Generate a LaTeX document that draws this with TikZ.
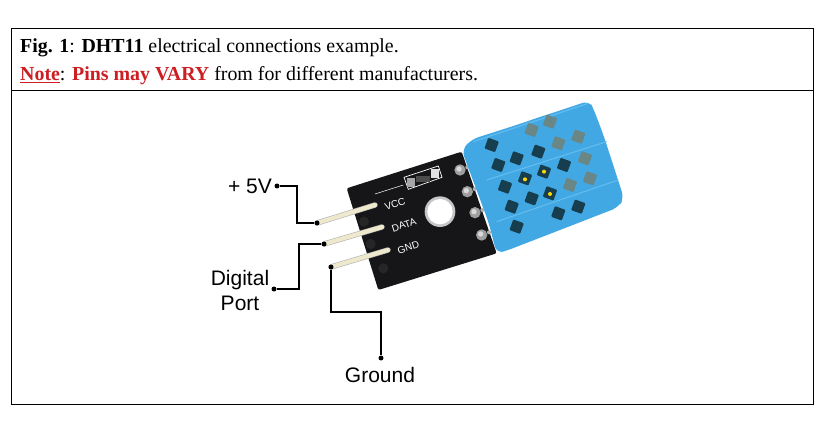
\documentclass[tikz,border=0pt]{standalone}
\usepackage{fontspec}
\setmainfont{Liberation Serif}
\newfontfamily\labelfont{Liberation Sans}
\definecolor{notered}{RGB}{205,30,35}
\definecolor{sensorblue}{RGB}{66,168,228}
\definecolor{ribblue}{RGB}{100,190,240}
\definecolor{holedark}{RGB}{22,62,78}
\definecolor{holegray}{RGB}{105,135,135}
\definecolor{pinivory}{RGB}{238,232,205}
\definecolor{boardblack}{RGB}{22,22,24}
\tikzset{
	caption/.style={anchor=base west, inner sep=0pt, font=\fontsize{19.9}{20}\selectfont},
	wirelabel/.style={align=center, inner sep=0pt, font=\labelfont\fontsize{21}{25}\selectfont},
	wiredot/.style={circle, fill=black, inner sep=0pt, minimum size=5pt},
	wire/.style={draw=black, line width=1.3pt},
	silk/.style={white, inner sep=0pt, rotate=18, font=\labelfont\fontsize{10}{10}\selectfont},
}
\begin{document}
\begin{tikzpicture}[x=1pt,y=-1pt]
	\useasboundingbox (0,0) rectangle (830,422);
	% frame
	\draw [line width=0.9pt] (11,28) rectangle (813,404);
	\draw [line width=0.9pt] (11,90) -- (813,90);
	\node [caption] (figline) at (20,53) {\textbf{Fig. 1}: \textbf{DHT11} electrical connections example.};
	\node [caption] (noteline) at (20,81) {\textcolor{notered}{\textbf{\underline{Note}}}: \textcolor{notered}{\textbf{Pins may VARY}} from for different manufacturers.};

	% sensor board
	\begin{scope}[shift={(340,90)},scale=1/3]
		\fill [boardblack, rounded corners=2pt] (20,295) -- (365,185) -- (470,490) -- (115,600) -- cycle;
		% smd part and traces
		\draw [white, line width=0.5pt] (105,312) -- (190,285);
		\draw [white, line width=0.7pt] (192,262) -- (295,228) -- (306,262) -- (205,298) -- cycle;
		\fill [gray!70] (200,265) rectangle (225,290);
		\fill [gray!25] (272,238) rectangle (296,265);
		\fill [black!70!white] (228,258) rectangle (270,275);
		% solder joints
		\foreach \x/\y in {360/240, 382/305, 405/368, 425/435} {
			\fill [gray!75] (\x,\y) circle (17);
			\fill [gray!30] (\x-3,\y-3) circle (8);
			\fill [gray!60] (\x+22,\y-8) circle (6);
		}
		% mounting hole
		\fill [gray!45] (300,365) circle (46);
		\fill [white] (300,365) circle (38);
		% header solder
		\foreach \x/\y in {72/395, 92/462, 130/535} {
			\fill [black!85!white] (\x,\y) circle (15);
		}
		\node [silk] (vcctext) at (165,342) {VCC};
		\node [silk] (datatext) at (192,405) {DATA};
		\node [silk] (gndtext) at (205,472) {GND};

		% blue housing
		\fill [sensorblue, rounded corners=7pt] (365,180) -- (395,148) -- (545,100) -- (590,84)
			-- (640,68) -- (748,32) -- (762,60) -- (792,140) -- (852,325) -- (835,352)
			-- (660,420) -- (500,482) -- (470,490) -- (445,395) -- cycle;
		\draw [ribblue, line width=1pt] (400,155) -- (745,40);
		\draw [ribblue, line width=1pt] (440,270) -- (800,155);
		\draw [ribblue, line width=1pt] (470,395) -- (835,270);
		\foreach \x/\y in {455/165, 475/225, 530/205, 595/185, 495/290, 555/265, 612/245, 672/225,
			515/350, 575/325, 630/310, 530/410, 655/370, 715/350} {
			\fill [holedark, shift={(\x,\y)}, rotate=-20, rounded corners=1pt] (-17,-17) rectangle (17,17);
		}
		\foreach \x/\y in {575/120, 630/95, 655/160, 715/140, 735/205, 690/285, 750/265} {
			\fill [holegray, shift={(\x,\y)}, rotate=-20, rounded corners=1pt] (-17,-17) rectangle (17,17);
		}
		\foreach \x/\y in {555/268, 612/245, 630/312} {
			\fill [yellow!75!orange] (\x,\y) circle (6);
		}
	\end{scope}

	% pins
	\foreach \xa/\ya/\xb/\yb in {317/223/375/205, 324/244/382/227, 331/267/388/250} {
		\draw [gray!60, line width=5.4pt, line cap=round] (\xa,\ya) -- (\xb,\yb);
		\draw [pinivory, line width=4.2pt, line cap=round] (\xa,\ya) -- (\xb,\yb);
	}

	% labels
	\node [wirelabel] (fivevlabel) at (250,186) {+ 5V};
	\node [wirelabel] (digitallabel) at (240,290) {Digital\\Port};
	\node [wirelabel] (groundlabel) at (380,375) {Ground};

	% wires
	\node [wiredot] (fivevdot) at (277,186) {};
	\node [wiredot] (vccdot) at (317,223) {};
	\node [wiredot] (digitaldot) at (274,289) {};
	\node [wiredot] (datadot) at (324,244) {};
	\node [wiredot] (gnddot) at (331,267) {};
	\node [wiredot] (grounddot) at (381,358) {};
	\coordinate (vccbend) at (297,223);
	\coordinate (databend) at (299,244);
	\coordinate (gndbend) at (331,312);
	\draw [wire] (fivevdot) -| (vccbend) -- (vccdot);
	\draw [wire] (digitaldot) -| (databend) -- (datadot);
	\draw [wire] (gnddot) -- (gndbend) -| (grounddot);
\end{tikzpicture}
\end{document}
